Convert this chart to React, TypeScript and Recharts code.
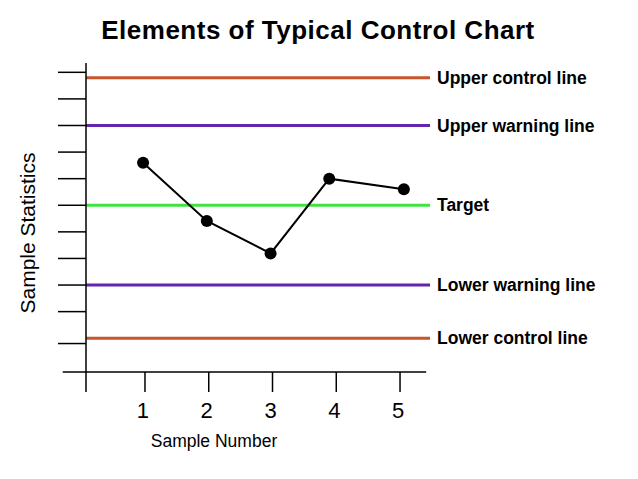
import React from 'react';
import { ComposedChart, Line, XAxis, YAxis, ReferenceLine } from 'recharts';

// Sample points (x position along sample axis, sample statistic value)
const sampleNumbers = [0.97, 1.97, 2.97, 3.89, 5.06];
const sampleStats = [7.6, 5.41, 4.19, 7.0, 6.6];

// Axis ticks
const xTicks = [0.075, 1, 2, 3, 4, 5];
const xTickLabels = ['', '1', '2', '3', '4', '5'];
const yTicks = [0.8, 2, 3, 4, 5, 6, 7, 8, 9, 10, 11];

// Control / warning / target lines
const limitNames = ['Upper control line', 'Upper warning line', 'Target', 'Lower warning line', 'Lower control line'];
const limitValues = [10.8, 9, 6, 3, 1];
const limitColors = ['#C8552B', '#6424AC', '#3FE23F', '#6424AC', '#C8552B'];

const xDomain = [0.075, 5.47];
const yDomain = [-0.27, 11.35];
const axisExtent = [-0.29, 5.41];

const data = sampleNumbers.map((s, i) => ({ sample: s, stat: sampleStats[i] }));

const FONT = '"Liberation Sans", Arial, Helvetica, sans-serif';

const XTick = (props: any) => {
  const { x, y, payload, index } = props;
  const label = xTickLabels[index] ?? '';
  return (
    <text x={x - 2} y={y + 15} textAnchor="middle" fontSize={22} fontFamily={FONT} fill="#000">
      {label}
    </text>
  );
};

export default function App() {
  return (
    <div style={{ position: 'absolute', left: 0, top: 0, width: 638, height: 479, background: '#fff' }}>
      <ComposedChart
        width={638}
        height={479}
        data={data}
        margin={{ top: 63, right: 208, bottom: 47, left: 58 }}
        style={{ fontFamily: FONT }}
      >
        <XAxis
          type="number"
          dataKey="sample"
          domain={xDomain}
          ticks={xTicks}
          interval={0}
          axisLine={false}
          tickLine={{ stroke: '#000', strokeWidth: 1.5 }}
          tickSize={20}
          tickMargin={11}
          height={60}
          tick={<XTick />}
        />
        <YAxis
          type="number"
          domain={yDomain}
          ticks={yTicks}
          interval={0}
          tickFormatter={() => ''}
          axisLine={{ stroke: '#000', strokeWidth: 1.5 }}
          tickLine={{ stroke: '#000', strokeWidth: 1.5 }}
          tickSize={28}
          tickMargin={0}
          width={28}
        />
        <ReferenceLine
          segment={[{ x: axisExtent[0], y: yDomain[0] }, { x: axisExtent[1], y: yDomain[0] }]}
          stroke="#000"
          strokeWidth={1.5}
          ifOverflow="visible"
        />
        {limitValues.map((v, i) => (
          <ReferenceLine
            key={limitNames[i]}
            y={v}
            stroke={limitColors[i]}
            strokeWidth={3}
            ifOverflow="visible"
            label={{
              value: limitNames[i],
              position: 'right',
              offset: 7,
              fill: '#000',
              fontSize: 17.5,
              fontWeight: 'bold',
              fontFamily: FONT,
            }}
          />
        ))}
        <Line
          type="linear"
          dataKey="stat"
          stroke="#000"
          strokeWidth={2}
          dot={{ r: 6, fill: '#000', stroke: '#000', strokeWidth: 0 }}
          isAnimationActive={false}
        />
      </ComposedChart>
      <svg
        width={638}
        height={479}
        style={{ position: 'absolute', left: 0, top: 0, pointerEvents: 'none' }}
      >
        <text x={318} y={39} textAnchor="middle" fontSize={26} fontWeight="bold" fontFamily={FONT} fill="#000" letterSpacing={0.5}>
          Elements of Typical Control Chart
        </text>
        <text x={214} y={447} textAnchor="middle" fontSize={17.5} fontFamily={FONT} fill="#000">
          Sample Number
        </text>
        <text
          x={35}
          y={233}
          textAnchor="middle"
          fontSize={21}
          fontFamily={FONT}
          fill="#000"
          transform="rotate(-90 35 233)"
        >
          Sample Statistics
        </text>
      </svg>
    </div>
  );
}
